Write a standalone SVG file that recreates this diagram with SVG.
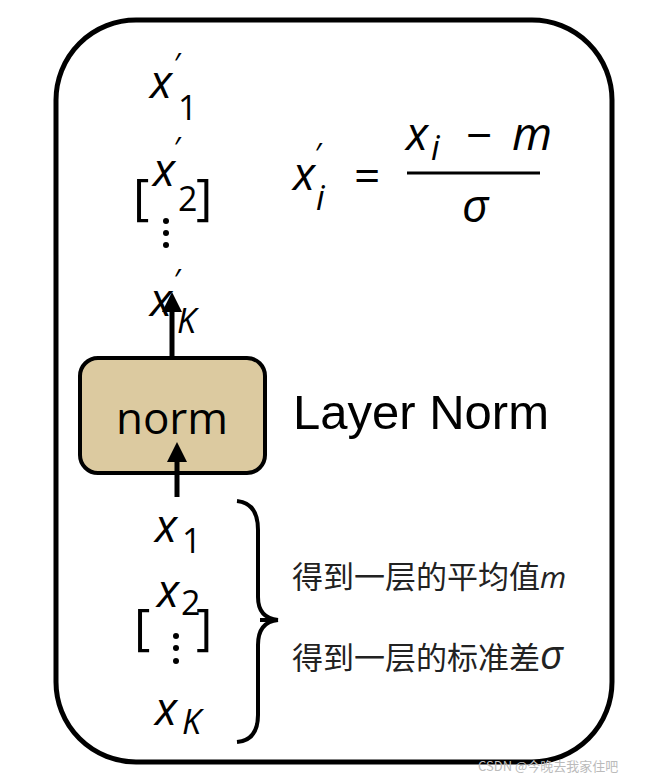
<svg xmlns="http://www.w3.org/2000/svg" width="664" height="782" viewBox="0 0 664 782">
<style>
.m{font-family:"Open Sans","DejaVu Sans",sans-serif;fill:#000}
.i{font-style:italic;font-size:46px}
.p{font-style:italic;font-size:30px}
.s{font-size:34px}
.si{font-style:italic;font-size:34px}
.b{font-size:50px}
.cn{font-family:"Noto Sans CJK SC",sans-serif;font-size:31px;fill:#222}
.ln{stroke:#000;fill:none}
</style>
<defs>
<marker id="ah" markerWidth="4" markerHeight="4" refX="2" refY="2" orient="auto" markerUnits="strokeWidth"><path d="M0,0 L4,2 L0,4 Z" fill="#000"/></marker>
</defs>
<rect x="56" y="20" width="556" height="742" rx="80" class="ln" stroke-width="5"/>
<g id="output">
<text class="m i" x="150" y="98">x</text><text class="m p" x="173" y="74">′</text><text class="m s" x="178" y="120">1</text>
<text class="m b" x="133" y="214">[</text><text class="m i" x="153" y="186">x</text><text class="m p" x="173" y="158">′</text><text class="m s" x="178" y="211">2</text><text class="m b" x="196" y="214">]</text>
<circle cx="166" cy="221" r="3"/><circle cx="166" cy="233" r="3"/><circle cx="166" cy="245" r="3"/>
<text class="m i" x="150" y="316">x</text><text class="m p" x="173" y="290">′</text><text class="m si" x="177" y="333">K</text>
</g>
<g id="formula">
<text class="m i" x="293" y="190">x</text><text class="m p" x="314" y="164">′</text><text class="m si" x="316" y="210">i</text>
<text class="m" x="354" y="192" font-size="46">=</text>
<text class="m i" x="406" y="150">x</text><text class="m si" x="431" y="160">i</text>
<text class="m" x="466" y="152" font-size="46">−</text><text class="m i" x="512" y="150">m</text>
<line x1="407" y1="173" x2="540" y2="173" stroke="#000" stroke-width="3"/>
<text class="m i" x="462" y="222">σ</text>
</g>
<g id="norm">
<rect x="80" y="358" width="185" height="115" rx="18" fill="#dccaa0" stroke="#000" stroke-width="4"/>
<text class="m" x="172" y="434" font-size="44" text-anchor="middle">norm</text>
</g>
<g id="label">
<text x="293" y="429" font-family="Liberation Sans,Arial,sans-serif" font-size="49">Layer Norm</text>
</g>
<g id="input">
<text class="m i" x="155" y="542">x</text><text class="m s" x="182" y="553">1</text>
<text class="m b" x="134" y="644">[</text><text class="m i" x="157" y="607">x</text><text class="m s" x="181" y="615">2</text><text class="m b" x="196" y="644">]</text>
<circle cx="176" cy="636" r="3"/><circle cx="176" cy="648" r="3"/><circle cx="176" cy="661" r="3"/>
<text class="m i" x="155" y="725">x</text><text class="m si" x="182" y="734">K</text>
<path class="ln" stroke-width="4" d="M237,501 Q258,503 258,530 L258,597 Q258,618 278,620 L260,620 M278,620 Q258,622 258,645 L258,715 Q258,740 237,742"/>
<text class="cn" x="292" y="588">得到一层的平均值<tspan font-family="Open Sans,sans-serif" font-style="italic" font-size="30">m</tspan></text>
<text class="cn" x="292" y="669">得到一层的标准差<tspan font-family="Open Sans,sans-serif" font-style="italic" font-size="40">σ</tspan></text>
</g>
<g id="connectors">
<line x1="177" y1="497" x2="177" y2="452" stroke="#000" stroke-width="5" marker-end="url(#ah)"/>
<line x1="172" y1="358" x2="172" y2="302" stroke="#000" stroke-width="5" marker-end="url(#ah)"/>
</g>
<text x="478" y="771" font-family="Noto Sans CJK SC,sans-serif" font-size="13" fill="#bbb">CSDN @今晚去我家住吧</text>
</svg>
